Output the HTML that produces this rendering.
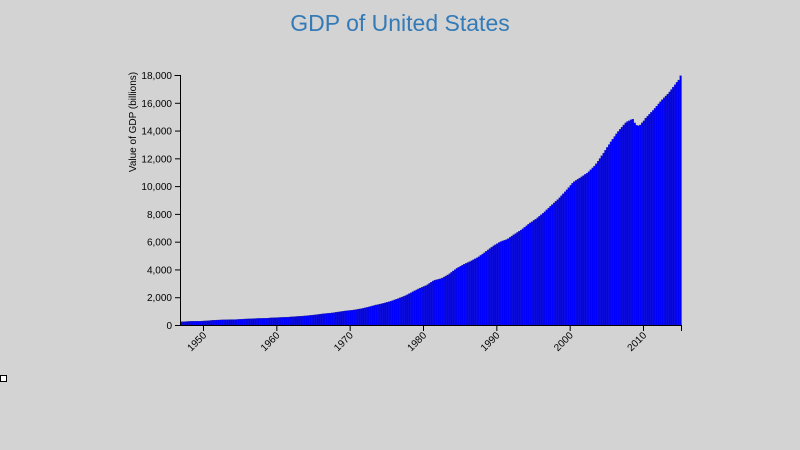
<!DOCTYPE html>
<html><head><meta charset="utf-8"><style>
body{margin:0;background:#d3d3d3;width:800px;height:450px;overflow:hidden;font-family:"Liberation Sans",sans-serif;position:relative}
h1{position:absolute;top:10px;left:0;width:800px;text-align:center;margin:0;font-weight:normal;font-size:23px;color:#337ab7}
.cb{position:absolute;left:0;top:375px;width:5px;height:5px;border:1px solid #000;background:#fff}
</style></head><body>
<h1>GDP of United States</h1>
<div class="cb"></div>
<svg id="s" width="800" height="450" style="position:absolute;left:0;top:0"></svg>
<script>
var ann={1947:244,1948:270,1949:272,1950:300,1951:347,1952:367,1953:389,1954:391,1955:426,1956:450,1957:474,1958:481,1959:522,1960:543,1961:563,1962:605,1963:638,1964:686,1965:744,1966:815,1967:862,1968:943,1969:1019,1970:1075,1971:1167,1972:1282,1973:1428,1974:1549,1975:1689,1976:1877,1977:2086,1978:2357,1979:2632,1980:2862,1981:3211,1982:3345,1983:3638,1984:4040,1985:4346,1986:4590,1987:4870,1988:5253,1989:5658,1990:5980,1991:6174,1992:6539,1993:6879,1994:7309,1995:7664,1996:8100,1997:8609,1998:9089,1999:9661,2000:10285,2001:10622,2002:10978,2003:11511,2004:12275,2005:13094,2006:13856,2007:14478,2008:14719,2009:14419,2010:14964,2011:15518,2012:16155,2013:16692,2014:17393,2015:18037};
var ov={"2007.5":14550,"2007.75":14650,"2008":14700,"2008.25":14780,"2008.5":14820,"2008.75":14550,"2009":14380,"2009.25":14340,"2009.5":14400,"2009.75":14560,"2010":14700,"2015":17950};
function val(t){var k=String(t);if(ov[k])return ov[k];var m=t-0.375;var y=Math.floor(m);var f=m-y;var a=ann[y]||ann[1947],b=ann[y+1]||ann[2015];if(y<1947)return 240;return a+(b-a)*f;}
var x0=181,ppy=440/60,yb=325,sc=250/18000,h='';
var bw=ppy/4;
for(var t=1947;t<=2015.01;t+=0.25){var v=val(Math.round(t*4)/4);var x=x0+(t-1947)*ppy;var y=yb-v*sc;
h+='<rect x="'+x.toFixed(2)+'" y="'+y.toFixed(2)+'" width="'+bw.toFixed(2)+'" height="'+(v*sc).toFixed(2)+'" fill="#0000ff" stroke="#1a1aa0" stroke-width="0.3"/>';}
h+='<path d="M174.5,75.5H180.5V325.5H681.5V331" fill="none" stroke="#000"/>';
for(var i=0;i<=9;i++){var y=325-i*2000*sc;h+='<line x1="175" x2="181" y1="'+(y+0.5)+'" y2="'+(y+0.5)+'" stroke="#000"/><text x="172" y="'+(y+4)+'" text-anchor="end" font-size="10" font-family="Liberation Sans,sans-serif">'+(i*2000).toLocaleString('en-US')+'</text>';}
for(var yr=1950;yr<=2010;yr+=10){var x=x0+(yr-1947)*ppy;h+='<line x1="'+(x+0.5)+'" x2="'+(x+0.5)+'" y1="325" y2="331" stroke="#000"/><text transform="translate('+(x+4)+',336) rotate(-45)" text-anchor="end" font-size="10" font-family="Liberation Sans,sans-serif">'+yr+'</text>';}
h+='<text transform="translate(136,122) rotate(-90)" text-anchor="middle" font-size="10" font-family="Liberation Sans,sans-serif">Value of GDP (billions)</text>';
document.getElementById('s').innerHTML=h;
</script>
</body></html>
